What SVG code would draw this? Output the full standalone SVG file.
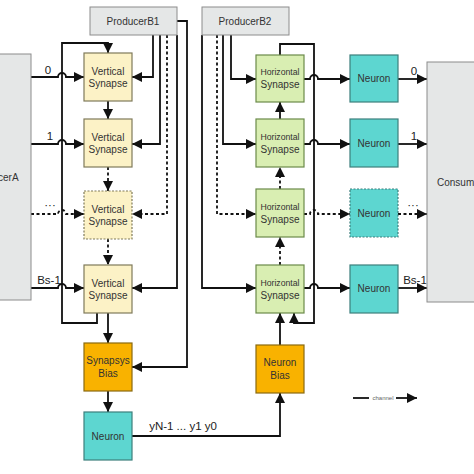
<svg xmlns="http://www.w3.org/2000/svg" width="474" height="474" viewBox="0 0 474 474">
<style>
text{font-family:"Liberation Sans","DejaVu Sans",sans-serif;fill:#333;text-anchor:middle}
.t{font-size:10px}
.th{font-size:8.7px}
.lb{font-size:11.5px;fill:#222}
.prod{fill:#e5e7e7;stroke:#8c8c8c;stroke-width:1}
.vs{fill:#fcf2c6;stroke:#7f7a5a;stroke-width:1.2}
.hs{fill:#d9eeb2;stroke:#6b8a4a;stroke-width:1.2}
.nr{fill:#5dd6d0;stroke:#3d7f7c;stroke-width:1.2}
.bias{fill:#f9b200;stroke:#8a6a10;stroke-width:1.2}
.dot{stroke-dasharray:2,1.5}
.c{fill:none;stroke:#111;stroke-width:1.8}
.d{fill:none;stroke:#111;stroke-width:1.8;stroke-dasharray:3,2.5}
</style>
<defs>
<marker id="a" viewBox="0 0 10 10" refX="10" refY="5" markerWidth="10" markerHeight="10" markerUnits="userSpaceOnUse" orient="auto">
<path d="M0,0 L10,5 L0,10 z" fill="#111"/>
</marker>
</defs>

<g id="connectors">
<path class="c" d="M31,77 H58 a4,4 0 0 1 8,0 H84" marker-end="url(#a)"/>
<path class="c" d="M31,144 H58 a4,4 0 0 1 8,0 H84" marker-end="url(#a)"/>
<path class="d" d="M31,214 H58 a4,4 0 0 1 8,0 H84" marker-end="url(#a)"/>
<path class="c" d="M31,288 H58 a4,4 0 0 1 8,0 H84" marker-end="url(#a)"/>
<path class="c" d="M97,313 V323 H62 V43 H108 V53" marker-end="url(#a)"/>
<path class="c" d="M108,101 V119" marker-end="url(#a)"/>
<path class="d" d="M108,167 V191" marker-end="url(#a)"/>
<path class="d" d="M108,239 V265" marker-end="url(#a)"/>
<path class="c" d="M108,313 V343" marker-end="url(#a)"/>
<path class="c" d="M108,391 V412" marker-end="url(#a)"/>
<path class="c" d="M153,35 V77 H132" marker-end="url(#a)"/>
<path class="c" d="M160,35 V144 H132" marker-end="url(#a)"/>
<path class="d" d="M167,35 V214 H132" marker-end="url(#a)"/>
<path class="c" d="M177,35 V288 H132" marker-end="url(#a)"/>
<path class="c" d="M177,21 H187 V367 H132" marker-end="url(#a)"/>
<path class="c" d="M231,35 V79 H256" marker-end="url(#a)"/>
<path class="c" d="M223,35 V144 H256" marker-end="url(#a)"/>
<path class="d" d="M217,35 V214 H256" marker-end="url(#a)"/>
<path class="c" d="M202,35 V288 H256" marker-end="url(#a)"/>
<path class="c" d="M280,119 V102" marker-end="url(#a)"/>
<path class="d" d="M280,189 V167" marker-end="url(#a)"/>
<path class="d" d="M280,265 V237" marker-end="url(#a)"/>
<path class="c" d="M280,345 V313" marker-end="url(#a)"/>
<path class="c" d="M280,55 V44 H314 V323 H294 V313" marker-end="url(#a)"/>
<path class="c" d="M304,79 H310 a4,4 0 0 1 8,0 H350" marker-end="url(#a)"/>
<path class="c" d="M304,144 H310 a4,4 0 0 1 8,0 H350" marker-end="url(#a)"/>
<path class="d" d="M304,214 H310 a4,4 0 0 1 8,0 H350" marker-end="url(#a)"/>
<path class="c" d="M304,288 H310 a4,4 0 0 1 8,0 H350" marker-end="url(#a)"/>
<path class="c" d="M398,79 H427" marker-end="url(#a)"/>
<path class="c" d="M398,144 H427" marker-end="url(#a)"/>
<path class="d" d="M398,214 H427" marker-end="url(#a)"/>
<path class="c" d="M398,288 H427" marker-end="url(#a)"/>
<path class="c" d="M132,436 H280 V393" marker-end="url(#a)"/>
<text class="lb" x="48" y="74">0</text>
<text class="lb" x="50" y="140">1</text>
<text class="lb" x="50" y="209">···</text>
<text class="lb" x="49" y="284">Bs-1</text>
<text class="lb" x="414" y="75">0</text>
<text class="lb" x="414" y="140">1</text>
<text class="lb" x="413" y="209">···</text>
<text class="lb" x="415" y="284">Bs-1</text>
<text class="lb" x="183" y="430">yN-1 ... y1 y0</text>
</g>

<g id="legend">
<path class="c" d="M353,398 H369"/>
<text x="383" y="400" style="font-size:6px;fill:#666">channel</text>
<path class="c" d="M396,398 H417" marker-end="url(#a)"/>
</g>

<g id="producerA"><rect class="prod" x="-40" y="54" width="71" height="246"/><text class="t" x="-5" y="181">ProducerA</text></g>
<g id="producerB1"><rect class="prod" x="90" y="7" width="87" height="28"/><text class="t" x="133" y="24.5">ProducerB1</text></g>
<g id="producerB2"><rect class="prod" x="202" y="7" width="87" height="28"/><text class="t" x="245" y="24.5">ProducerB2</text></g>
<g id="consumer"><rect class="prod" x="427" y="62" width="60" height="240"/><text class="t" x="437" y="186" style="text-anchor:start">Consumer</text></g>

<g id="vs1"><rect class="vs" x="84" y="53" width="48" height="48"/><text class="t" x="108" y="74.5">Vertical</text><text class="t" x="108" y="87">Synapse</text></g>
<g id="vs2"><rect class="vs" x="84" y="119" width="48" height="48"/><text class="t" x="108" y="140.5">Vertical</text><text class="t" x="108" y="153">Synapse</text></g>
<g id="vs3"><rect class="vs dot" x="84" y="191" width="48" height="48"/><text class="t" x="108" y="212.5">Vertical</text><text class="t" x="108" y="225">Synapse</text></g>
<g id="vs4"><rect class="vs" x="84" y="265" width="48" height="48"/><text class="t" x="108" y="286.5">Vertical</text><text class="t" x="108" y="299">Synapse</text></g>
<g id="synbias"><rect class="bias" x="84" y="343" width="48" height="48"/><text class="t" x="108" y="364">Synapsys</text><text class="t" x="108" y="376.5">Bias</text></g>
<g id="neuronB"><rect class="nr" x="84" y="412" width="48" height="48"/><text class="t" x="108" y="439.5">Neuron</text></g>

<g id="hs1"><rect class="hs" x="256" y="55" width="48" height="47"/><text class="th" x="280" y="75">Horizontal</text><text class="t" x="280" y="87.5">Synapse</text></g>
<g id="hs2"><rect class="hs" x="256" y="119" width="48" height="48"/><text class="th" x="280" y="140">Horizontal</text><text class="t" x="280" y="152.5">Synapse</text></g>
<g id="hs3"><rect class="hs" x="256" y="189" width="48" height="48"/><text class="th" x="280" y="210">Horizontal</text><text class="t" x="280" y="222.5">Synapse</text></g>
<g id="hs4"><rect class="hs" x="256" y="265" width="48" height="48"/><text class="th" x="280" y="286">Horizontal</text><text class="t" x="280" y="298.5">Synapse</text></g>
<g id="neuronbias"><rect class="bias" x="256" y="345" width="48" height="48"/><text class="t" x="280" y="366">Neuron</text><text class="t" x="280" y="378.5">Bias</text></g>

<g id="n1"><rect class="nr" x="350" y="55" width="48" height="47"/><text class="t" x="374" y="82">Neuron</text></g>
<g id="n2"><rect class="nr" x="350" y="119" width="48" height="48"/><text class="t" x="374" y="147">Neuron</text></g>
<g id="n3"><rect class="nr dot" x="350" y="189" width="48" height="48"/><text class="t" x="374" y="217">Neuron</text></g>
<g id="n4"><rect class="nr" x="350" y="265" width="48" height="48"/><text class="t" x="374" y="292">Neuron</text></g>
</svg>
